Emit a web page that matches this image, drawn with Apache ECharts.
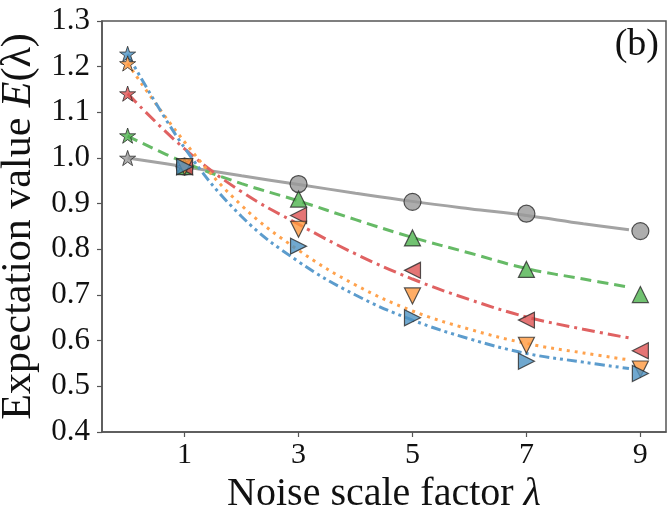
<!DOCTYPE html>
<html lang="en">
<head>
    <meta charset="UTF-8">
    <title>Expectation value vs noise scale</title>
    <script type="text/javascript" src="https://cdn.jsdelivr.net/npm/echarts@6/dist/echarts.min.js"></script>
    <style>
        html, body { margin: 0; padding: 0; background: #fff; }
    </style>
</head>
<body>
    <div id="main" style="width: 672px;height:519px;"></div>
    <script type="text/javascript">

        // fit curves
        var fitX = [0, 1, 2, 3, 4, 5, 6, 7, 8, 8.8];
        var greyFit   = [1.000, 0.981, 0.961, 0.942, 0.923, 0.905, 0.889, 0.874, 0.856, 0.843];
        var greenFit  = [1.048, 0.990, 0.944, 0.906, 0.865, 0.826, 0.792, 0.758, 0.735, 0.717];
        var redFit    = [1.141, 1.020, 0.926, 0.855, 0.790, 0.735, 0.690, 0.652, 0.625, 0.606];
        var orangeFit = [1.207, 1.035, 0.896, 0.798, 0.722, 0.665, 0.625, 0.594, 0.573, 0.558];
        var blueFit   = [1.227, 1.022, 0.872, 0.773, 0.700, 0.645, 0.604, 0.572, 0.553, 0.539];

        // measured points
        var lambdas = [1, 3, 5, 7, 9];
        var greyPts   = [0.981, 0.943, 0.904, 0.878, 0.840];
        var greenPts  = [0.981, 0.910, 0.825, 0.756, 0.701];
        var redPts    = [0.981, 0.874, 0.754, 0.645, 0.578];
        var orangePts = [0.981, 0.844, 0.698, 0.590, 0.538];
        var bluePts   = [0.981, 0.807, 0.650, 0.555, 0.528];

        // extrapolated values at lambda = 0
        var starX = 0;
        var greyStar = 1.000, greenStar = 1.049, redStar = 1.141, orangeStar = 1.207, blueStar = 1.228;

        var xTicks = [1, 3, 5, 7, 9];

        var serif = '"Liberation Serif", "DejaVu Serif", serif';
        var star = 'path://M50 0 L61.23 34.55 L97.55 34.55 L68.17 55.9 L79.39 90.45 L50 69.1 L20.61 90.45 L31.83 55.9 L2.45 34.55 L38.77 34.55 Z';

        function pairs(xs, ys) {
            return xs.map(function (x, i) { return [x, ys[i]]; });
        }

        // one entry per curve: line colour, marker colour, dash, marker, rotation
        var sets = [
            {fit: greyFit,   pts: greyPts,   s: greyStar,   line: '#a3a3a3', fill: '#999999', dash: 'solid',            sym: 'circle',   rot: 0},
            {fit: greenFit,  pts: greenPts,  s: greenStar,  line: '#66ba66', fill: '#4db34d', dash: [11, 6],            sym: 'triangle', rot: 0},
            {fit: redFit,    pts: redPts,    s: redStar,    line: '#e06262', fill: '#de5253', dash: [13, 5, 3, 5],      sym: 'triangle', rot: 90},
            {fit: orangeFit, pts: orangePts, s: orangeStar, line: '#ffa24d', fill: '#ff993e', dash: [3, 5],             sym: 'triangle', rot: 180},
            {fit: blueFit,   pts: bluePts,   s: blueStar,   line: '#5c9ccd', fill: '#4c92c3', dash: [10, 4, 3, 4, 3, 4], sym: 'triangle', rot: -90}
        ];

        var series = [];
        sets.forEach(function (d, i) {
            series.push({
                type: 'line',
                data: pairs(fitX, d.fit),
                smooth: 0.4,
                showSymbol: false,
                lineStyle: {color: d.line, width: 3, type: d.dash},
                z: 2 + i,
                silent: true
            });
        });
        sets.forEach(function (d, i) {
            series.push({
                type: 'scatter',
                data: pairs(lambdas, d.pts),
                symbol: d.sym,
                symbolRotate: d.rot,
                symbolSize: d.sym === 'circle' ? 17 : 16,
                itemStyle: {color: d.fill, borderColor: '#2a2a2a', borderWidth: 1.2},
                z: 10 + i
            });
            series.push({
                type: 'scatter',
                data: [[starX, d.s]],
                symbol: star,
                symbolKeepAspect: true,
                symbolSize: 16,
                itemStyle: {color: d.fill, borderColor: '#2a2a2a', borderWidth: 1},
                z: i === 3 ? 30 : 20 + i
            });
        });

        var myChart = echarts.init(document.getElementById('main'));

        var option = {
            animation: false,
            grid: {
                left: 102, right: 6, top: 21, bottom: 87,
                show: true, borderColor: '#555', borderWidth: 1.5,
                outerBoundsMode: 'none'
            },
            xAxis: {
                type: 'value',
                min: -0.45,
                max: 9.45,
                name: '{n|Noise scale factor }{i|λ}',
                nameLocation: 'middle',
                nameGap: 31,
                nameTextStyle: {
                    rich: {
                        n: {fontFamily: serif, fontSize: 40, color: '#111'},
                        i: {fontFamily: serif, fontSize: 40, fontStyle: 'italic', color: '#111'}
                    }
                },
                axisLine: {show: true, onZero: false, lineStyle: {color: '#555', width: 1.5}},
                axisTick: {show: true, length: 5, customValues: xTicks, lineStyle: {color: '#555', width: 1.2}},
                axisLabel: {customValues: xTicks, fontFamily: serif, fontSize: 30, color: '#111', margin: 8},
                splitLine: {show: false}
            },
            yAxis: {
                type: 'value',
                min: 0.4,
                max: 1.3,
                interval: 0.1,
                name: '{n|Expectation value }{i|E}{n|(λ)}',
                nameLocation: 'middle',
                nameGap: 52,
                nameTextStyle: {
                    rich: {
                        n: {fontFamily: serif, fontSize: 42, color: '#111'},
                        i: {fontFamily: serif, fontSize: 42, fontStyle: 'italic', color: '#111'}
                    }
                },
                axisLine: {show: true, onZero: false, lineStyle: {color: '#555', width: 1.5}},
                axisTick: {show: true, length: 5, lineStyle: {color: '#555', width: 1.2}},
                axisLabel: {
                    fontFamily: serif, fontSize: 31, color: '#111', margin: 12,
                    formatter: function (v) { return v.toFixed(1); }
                },
                splitLine: {show: false}
            },
            graphic: [{
                type: 'text',
                right: 13,
                top: 26,
                style: {text: '(b)', font: '38px ' + serif, fill: '#111'}
            }],
            series: series
        };

        myChart.setOption(option);

    </script>
</body>
</html>
